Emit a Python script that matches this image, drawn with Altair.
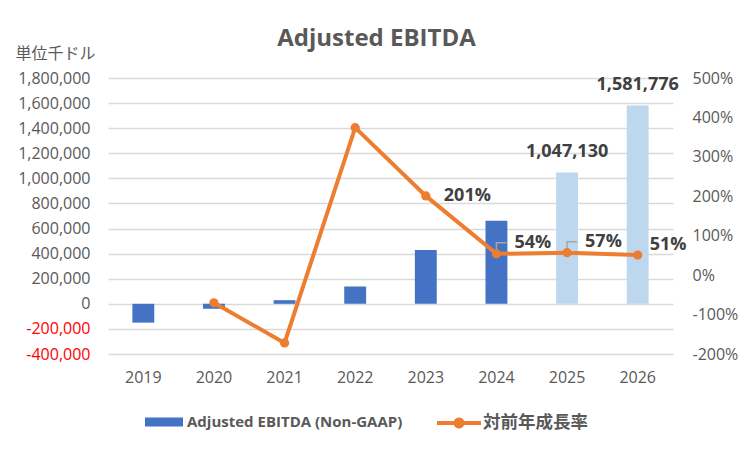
import altair as alt
import pandas as pd

years = ["2019", "2020", "2021", "2022", "2023", "2024", "2025", "2026"]
ebitda = [-150000, -40000, 29000, 138000, 428000, 662000, 1047130, 1581776]
kinds = ["Adjusted EBITDA (Non-GAAP)"] * 6 + ["Forecast"] * 2
growth = [None, -0.70, -1.72, 3.74, 2.01, 0.54, 0.57, 0.51]

left_ticks = list(range(-400000, 1800001, 200000))
right_ticks = [-2, -1, 0, 1, 2, 3, 4, 5]

bar_name = "Adjusted EBITDA (Non-GAAP)"
line_name = "対前年成長率"
unit_label = "単位千ドル"
title_text = "Adjusted EBITDA"

df = pd.DataFrame({
    "year": years,
    "ebitda": ebitda,
    "kind": kinds,
    "growth": growth,
    "series": [line_name] * len(years),
})

FONT = "Open Sans, Noto Sans CJK JP, sans-serif"
GRAY = "#595959"
DARK = "#404040"
ORANGE = "#ED7D31"
HYPHEN = "replace(datum.label, '\u2212', '-')"

x = alt.X("year:O", title=None,
          scale=alt.Scale(paddingInner=0.69, paddingOuter=0.345),
          axis=alt.Axis(labelAngle=0, ticks=False, domain=False, labelPadding=15,
                        labelFontSize=16, labelColor=GRAY, grid=False))

y_left = alt.Y("ebitda:Q", scale=alt.Scale(domain=[-400000, 1800000], nice=False, zero=False),
               axis=alt.Axis(values=left_ticks, format=",d", labelExpr=HYPHEN, ticks=False, domain=False,
                             labelPadding=18, labelFontSize=16,
                             labelColor={"expr": "datum.value < 0 ? '#FF0000' : '#595959'"},
                             grid=True, gridColor="#D9D9D9", gridWidth=1.3,
                             title=unit_label, titleAngle=0, titleX=-93, titleY=-20,
                             titleAlign="left", titleBaseline="alphabetic",
                             titleFontSize=16, titleFontWeight="normal", titleColor=GRAY))

y_right = alt.Y("growth:Q", scale=alt.Scale(domain=[-2, 5], nice=False, zero=False),
                axis=alt.Axis(orient="right", values=right_ticks, format=".0%", labelExpr=HYPHEN,
                              ticks=False, domain=False, labelPadding=19, labelFontSize=16,
                              labelColor=GRAY, grid=False, title=None))

base = alt.Chart(df)

bars = base.mark_bar().encode(
    x=x, y=y_left,
    color=alt.Color("kind:N",
                    scale=alt.Scale(domain=[bar_name, "Forecast"], range=["#4472C4", "#BDD7EE"]),
                    legend=alt.Legend(orient="none", legendX=37, legendY=325, title=None,
                                      values=[bar_name],
                                      symbolType="M-1,-0.237H1V0.237H-1Z", symbolSize=1444,
                                      symbolStrokeWidth=0, labelFontSize=15, labelFontWeight="bold",
                                      labelColor=GRAY, labelFont=FONT, labelLimit=400,
                                      padding=0, labelOffset=4)),
)

bar_text = base.transform_filter(alt.datum.kind == "Forecast").mark_text(
    dy=-15, baseline="alphabetic", fontSize=18, fontWeight="bold", color=DARK
).encode(x=x, y=y_left, text=alt.Text("ebitda:Q", format=","))

left = alt.layer(bars, bar_text)

line = base.mark_line(color=ORANGE, strokeWidth=4).encode(x=x, y=y_right)

points = base.mark_point(filled=True, size=85, opacity=1, strokeWidth=0).encode(
    x=x, y=y_right,
    color=alt.Color("series:N", scale=alt.Scale(domain=[line_name], range=[ORANGE]),
                    legend=alt.Legend(orient="none", legendX=329, legendY=323, title=None,
                                      symbolType="M-1,-0.09H1V0.09H-1Z M-0.25,0A0.25,0.25,0,1,1,0.25,0A0.25,0.25,0,1,1,-0.25,0Z",
                                      symbolSize=1936, symbolStrokeWidth=0,
                                      labelFontSize=17.5, labelColor=GRAY, labelFont=FONT,
                                      labelFontWeight="bold", labelLimit=400, padding=0, labelOffset=2)),
)

lab_common = dict(align="left", baseline="middle", fontSize=18, fontWeight="bold", color=DARK)
t1 = base.transform_filter(alt.datum.year == "2023").mark_text(dx=18, dy=0, **lab_common).encode(
    x=x, y=y_right, text=alt.Text("growth:Q", format=".0%"))
t2 = base.transform_filter(alt.FieldOneOfPredicate(field="year", oneOf=["2024", "2025"])).mark_text(
    dx=18, dy=-11, **lab_common).encode(x=x, y=y_right, text=alt.Text("growth:Q", format=".0%"))
t3 = base.transform_filter(alt.datum.year == "2026").mark_text(dx=12, dy=-10, **lab_common).encode(
    x=x, y=y_right, text=alt.Text("growth:Q", format=".0%"))

leaders = base.transform_filter(alt.FieldOneOfPredicate(field="year", oneOf=["2024", "2025"])).mark_point(
    shape="M0,-0.15V-1H0.9", filled=False, stroke="#A6A6A6", strokeWidth=1.5, size=484, opacity=1
).encode(x=x, y=y_right)

right = alt.layer(line, leaders, points, t1, t2, t3)

chart = alt.layer(left, right).resolve_scale(y="independent", color="independent").properties(
    width=565, height=276,
    title=alt.TitleParams(title_text, fontSize=24, fontWeight="bold", color=GRAY, anchor="middle",
                          dx=-14, dy=56, offset=31, baseline="alphabetic", font=FONT),
    autosize=alt.AutoSizeParams(type="none"),
    padding={"left": 100, "top": 70, "right": 72, "bottom": 90},
).configure(font=FONT).configure_view(stroke=None)

chart.save("out.html", embed_options={"renderer": "svg", "actions": False})
